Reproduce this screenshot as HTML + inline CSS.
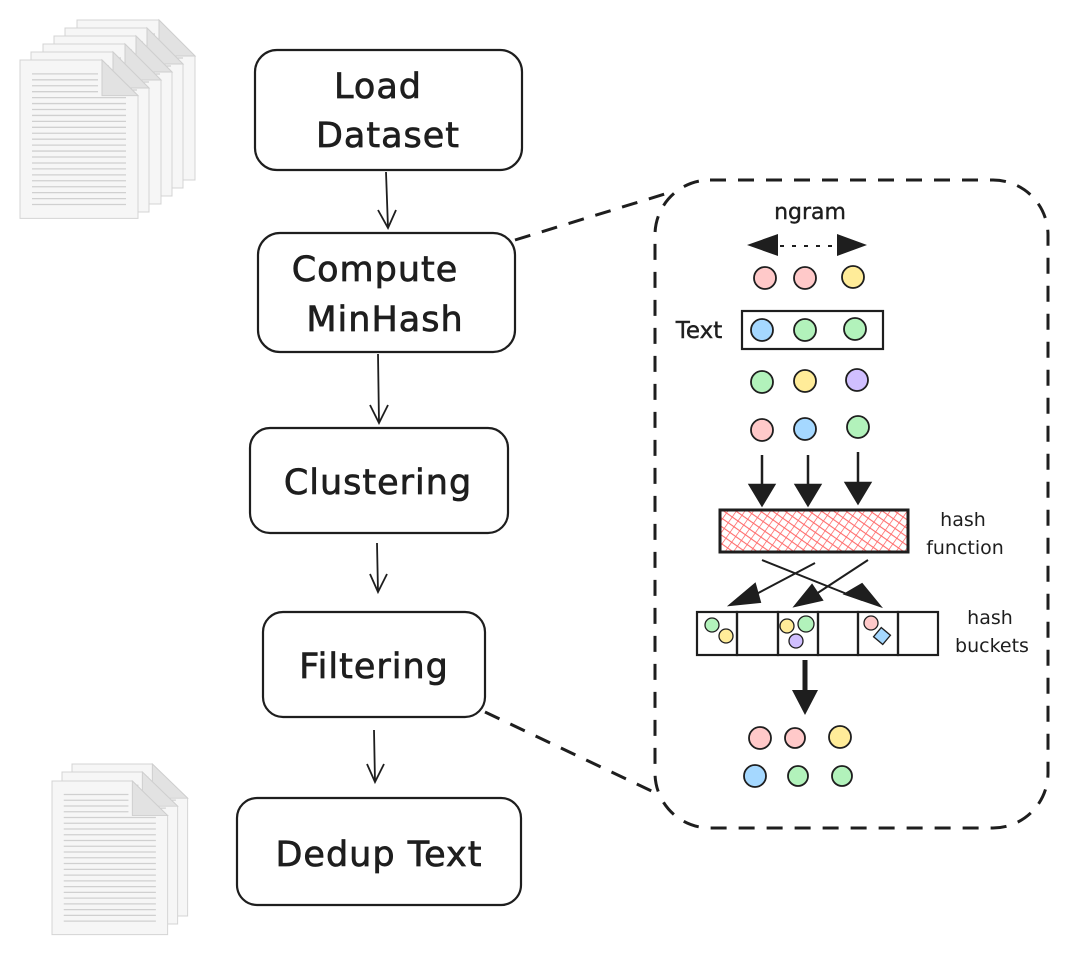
<!DOCTYPE html>
<html><head><meta charset="utf-8"><style>
html,body{margin:0;padding:0;background:#fff;}
svg{display:block;}
text{font-family:"DejaVu Sans","Liberation Sans",sans-serif;fill:#1e1e1e;}
.big{font-size:35px;letter-spacing:1px;stroke:#1e1e1e;stroke-width:0.7px;}
</style></head><body>
<svg width="1068" height="955" viewBox="0 0 1068 955" xmlns="http://www.w3.org/2000/svg">
<defs>
<g id="pg">
<path d="M0,0 H82 L118,36 V160 H0 Z" fill="#f6f6f6" stroke="#d4d4d4" stroke-width="1"/>
<path d="M82,0 V36 H118 Z" fill="#e2e2e2" stroke="#cfcfcf"/>
<g stroke="#d0d0d0" stroke-width="1.3">
<line x1="12" y1="14" x2="78" y2="14"/><line x1="12" y1="20" x2="78" y2="20"/><line x1="12" y1="26" x2="78" y2="26"/><line x1="12" y1="32" x2="78" y2="32"/>
<line x1="12" y1="38" x2="106" y2="38"/><line x1="12" y1="44" x2="106" y2="44"/><line x1="12" y1="50" x2="106" y2="50"/><line x1="12" y1="56" x2="106" y2="56"/>
<line x1="12" y1="62" x2="106" y2="62"/><line x1="12" y1="68" x2="106" y2="68"/><line x1="12" y1="74" x2="106" y2="74"/><line x1="12" y1="80" x2="106" y2="80"/>
<line x1="12" y1="86" x2="106" y2="86"/><line x1="12" y1="92" x2="106" y2="92"/><line x1="12" y1="98" x2="106" y2="98"/><line x1="12" y1="104" x2="106" y2="104"/>
<line x1="12" y1="110" x2="106" y2="110"/><line x1="12" y1="116" x2="106" y2="116"/><line x1="12" y1="122" x2="106" y2="122"/><line x1="12" y1="128" x2="106" y2="128"/>
<line x1="12" y1="134" x2="106" y2="134"/><line x1="12" y1="140" x2="106" y2="140"/><line x1="12" y1="146" x2="106" y2="146"/>
</g>
</g>
<pattern id="hatch" width="7" height="7" patternUnits="userSpaceOnUse" patternTransform="rotate(35)">
<line x1="0" y1="0" x2="0" y2="7" stroke="#ff4d4d" stroke-width="1.3"/>
<line x1="0" y1="3.5" x2="7" y2="3.5" stroke="#ff6b6b" stroke-width="1.1"/>
</pattern>
</defs>

<use href="#pg" transform="translate(77,20)"/>
<use href="#pg" transform="translate(65,28)"/>
<use href="#pg" transform="translate(54,36)"/>
<use href="#pg" transform="translate(43,44)"/>
<use href="#pg" transform="translate(31,52)"/>
<use href="#pg" transform="translate(20,60) scale(1,0.99)"/>
<use href="#pg" transform="translate(72,764) scale(0.98,0.95)"/>
<use href="#pg" transform="translate(62,772) scale(0.98,0.95)"/>
<use href="#pg" transform="translate(52,781) scale(0.98,0.96)"/>

<g fill="none" stroke="#1e1e1e" stroke-width="2.2">
<rect x="255" y="50" width="267" height="120" rx="22"/>
<rect x="258" y="233" width="257" height="119" rx="22"/>
<rect x="250" y="428" width="258" height="105" rx="20"/>
<rect x="263" y="612" width="222" height="105" rx="20"/>
<rect x="237" y="798" width="284" height="107" rx="20"/>
</g>
<g class="big" text-anchor="middle">
<text x="378" y="98">Load</text>
<text x="388" y="147">Dataset</text>
<text x="375" y="281">Compute</text>
<text x="385" y="331">MinHash</text>
<text x="378" y="494">Clustering</text>
<text x="374" y="678">Filtering</text>
<text x="379" y="866">Dedup Text</text>
</g>
<g stroke="#1e1e1e" stroke-width="1.8" fill="none">
<path d="M386,172 L388,228 M378,210 L388,228 L396,210"/>
<path d="M378,354 L379,423 M370,405 L379,423 L388,405"/>
<path d="M377,543 L378,592 M370,574 L378,592 L387,574"/>
<path d="M374,730 L375,782 M367,764 L375,782 L384,764"/>
</g>

<g stroke="#1e1e1e" stroke-width="3" fill="none" stroke-dasharray="16 12">
<path d="M515,240 L668,193"/>
<path d="M485,712 L660,795"/>
<rect x="655" y="180" width="393" height="648" rx="55"/>
</g>

<text x="810" y="219" font-size="22" text-anchor="middle" stroke="#1e1e1e" stroke-width="0.4">ngram</text>
<path d="M747,245 L778,234 L778,256 Z" fill="#1e1e1e"/>
<path d="M867,245 L837,234 L837,256 Z" fill="#1e1e1e"/>
<line x1="780" y1="246" x2="836" y2="246" stroke="#1e1e1e" stroke-width="2" stroke-dasharray="4 8"/>

<g stroke="#1e1e1e" stroke-width="1.8">
<circle cx="765" cy="278" r="11" fill="#ffc9c9"/>
<circle cx="805" cy="278" r="11" fill="#ffc9c9"/>
<circle cx="853" cy="277" r="11" fill="#ffec99"/>
<circle cx="762" cy="330" r="11" fill="#a5d8ff"/>
<circle cx="805" cy="330" r="11" fill="#b2f2bb"/>
<circle cx="855" cy="329" r="11" fill="#b2f2bb"/>
<circle cx="762" cy="382" r="11" fill="#b2f2bb"/>
<circle cx="805" cy="381" r="11" fill="#ffec99"/>
<circle cx="857" cy="380" r="11" fill="#d0bfff"/>
<circle cx="762" cy="430" r="11" fill="#ffc9c9"/>
<circle cx="805" cy="429" r="11" fill="#a5d8ff"/>
<circle cx="858" cy="427" r="11" fill="#b2f2bb"/>
</g>
<rect x="742" y="311" width="141" height="38" fill="none" stroke="#1e1e1e" stroke-width="2.2"/>
<text x="699" y="338" font-size="23" text-anchor="middle" stroke="#1e1e1e" stroke-width="0.4">Text</text>

<g stroke="#1e1e1e" stroke-width="2.5" fill="#1e1e1e">
<line x1="762" y1="455" x2="762" y2="488"/><path d="M750,485 L762,505 L774,485 Z"/>
<line x1="808" y1="455" x2="808" y2="488"/><path d="M796,485 L808,505 L820,485 Z"/>
<line x1="858" y1="452" x2="858" y2="486"/><path d="M846,483 L858,503 L870,483 Z"/>
</g>
<rect x="720" y="510" width="188" height="42" fill="url(#hatch)" stroke="#1e1e1e" stroke-width="3"/>
<text x="963" y="526" font-size="19" text-anchor="middle">hash</text>
<text x="965" y="554" font-size="19" text-anchor="middle">function</text>

<g stroke="#1e1e1e" stroke-width="2" fill="#1e1e1e">
<line x1="762" y1="560" x2="862" y2="600"/><path d="M845,594 L880,606 L862,584 Z"/>
<line x1="815" y1="563" x2="745" y2="600"/><path d="M730,605 L755,584 L760,602 Z"/>
<line x1="868" y1="560" x2="810" y2="598"/><path d="M795,606 L812,585 L822,600 Z"/>
</g>
<g fill="none" stroke="#1e1e1e" stroke-width="2.2">
<rect x="697" y="612" width="40" height="43"/>
<rect x="737" y="612" width="41" height="43"/>
<rect x="778" y="612" width="40" height="43"/>
<rect x="818" y="612" width="40" height="43"/>
<rect x="858" y="612" width="40" height="43"/>
<rect x="898" y="612" width="40" height="43"/>
</g>
<g stroke="#1e1e1e" stroke-width="1.3">
<circle cx="712" cy="625" r="7" fill="#b2f2bb"/>
<circle cx="726" cy="636" r="7" fill="#ffec99"/>
<circle cx="787" cy="626" r="7" fill="#ffec99"/>
<circle cx="806" cy="624" r="8" fill="#b2f2bb"/>
<circle cx="796" cy="641" r="7" fill="#d0bfff"/>
<circle cx="871" cy="623" r="7" fill="#ffc9c9"/>
<rect x="876" y="630" width="12" height="12" fill="#a5d8ff" transform="rotate(40 882 636)"/>
</g>
<text x="990" y="624" font-size="19" text-anchor="middle">hash</text>
<text x="992" y="652" font-size="19" text-anchor="middle">buckets</text>

<line x1="805" y1="660" x2="805" y2="695" stroke="#1e1e1e" stroke-width="5"/>
<path d="M792,690 L818,690 L805,715 Z" fill="#1e1e1e"/>

<g stroke="#1e1e1e" stroke-width="1.8">
<circle cx="760" cy="738" r="11" fill="#ffc9c9"/>
<circle cx="795" cy="738" r="10" fill="#ffc9c9"/>
<circle cx="840" cy="737" r="11" fill="#ffec99"/>
<circle cx="755" cy="776" r="11" fill="#a5d8ff"/>
<circle cx="798" cy="776" r="10" fill="#b2f2bb"/>
<circle cx="842" cy="776" r="10" fill="#b2f2bb"/>
</g>
</svg>
</body></html>
